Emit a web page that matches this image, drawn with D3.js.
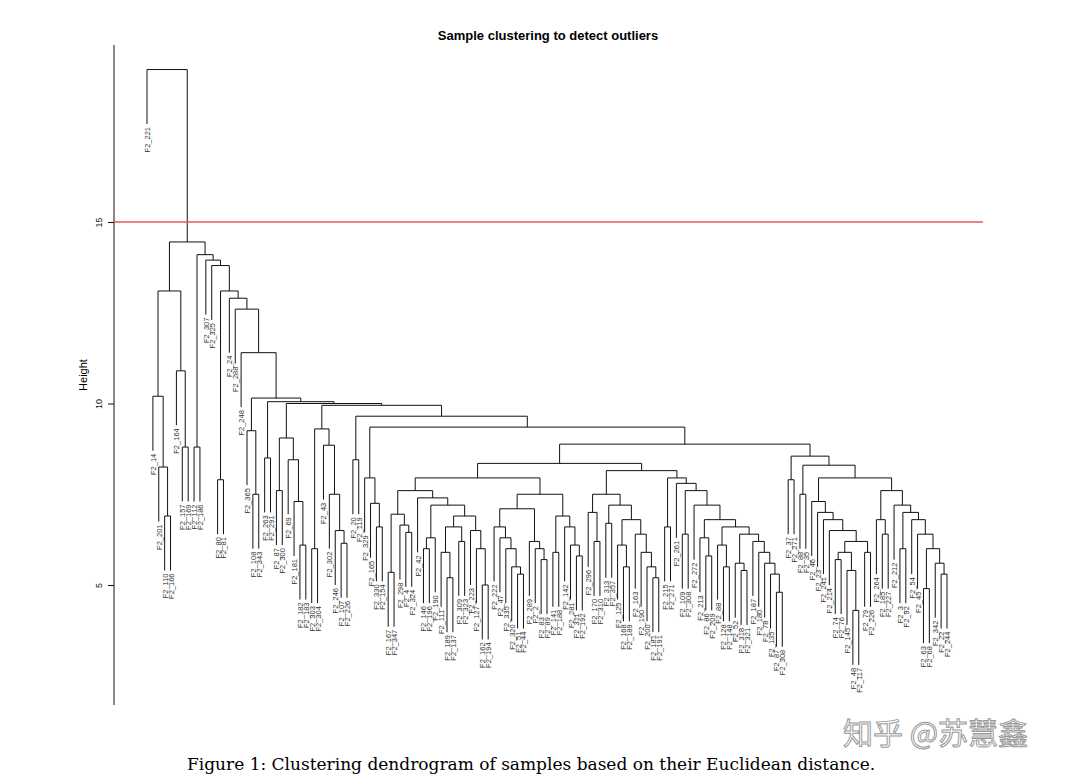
<!DOCTYPE html>
<html>
<head>
<meta charset="utf-8">
<script src="https://cdn.jsdelivr.net/npm/d3@7"></script>
<style>
  body { margin: 0; background: #fff; }
  svg { font-family: "Liberation Sans", Arial, sans-serif; }
</style>
</head>
<body>
<div id="chart"></div>
<script>
var svgWidth = 1080;
var svgHeight = 778;

// tree: [height, left, right]; leaf = sample label suffix
var tickValues = [5, 10, 15];
var cutHeight = 15;
var hang = 1.5;

var cUa = [7.3, "46", [7.0, "23", [6.8, "241", [6.5, "214", [6.2, [5.9, [5.7, "74", "76"], [5.4, "145", [4.3, "48", "117"]]], [5.9, "79", "226"]]]]]];
var cUb = [7.6, [6.8, "264", [6.4, "185", "227"]], [7.2, "212", [7.0, [6.0, "3", "92"], [6.8, "54", [6.4, "45", [6.0, [4.9, "63", "68"], [5.6, "342", [5.3, "22", "244"]]]]]]]];
var cU = [8.55, [7.9, "37", "271"], [8.3, [7.5, "88", "35"], [7.95, cUa, cUb]]];

var cTc = [7.2, [6.3, [6.0, "146", "196"], "190"], [6.9, [6.6, [5.9, "111", [5.2, "189", "137"]], [6.2, "309", "323"]], [6.5, "223", [6.0, "127", [5.0, "162", "194"]]]]];
var cTa = [7.6, [6.95, [5.35, "167", "347"], [6.65, "298", [6.45, "4", "324"]]], [7.4, "42", cTc]];
var cTb = [7.5, [7.1, [6.6, "222", [6.3, "47", [6.0, "335", [5.5, "320", [5.3, "51", "44"]]]]], [6.2, "289", [6.0, "2", [5.7, "83", "89"]]]],
               [6.9, [5.9, "141", "188"], [6.6, "142", [6.1, "281", [5.8, "311", "192"]]]]];
var cT2a = [7.5, [7.0, "296", [6.2, "170", "310"]], [7.2, [6.7, "313", "357"], [6.8, [6.1, "125", [5.5, "168", "189"]], [6.4, "163", [5.9, "190", [5.5, "200", [5.2, "181", "191"]]]]]]];
var cT2b = [7.95, [6.6, "215", "271"], [7.8, "261", [7.6, [6.4, "109", "308"], [7.2, "272", [6.8, [6.3, "213", [5.8, "86", "209"]],
               [6.6, [6.1, "88", [5.5, "128", "148"]], [6.4, [5.6, "52", [5.4, "318", "321"]], [6.2, "187", [5.9, "180", [5.6, "78", [5.3, "135", [4.8, "87", "308"]]]]]]]]]]]];
var cT = [8.35, [7.95, cTa, cTb], [8.15, cT2a, cT2b]];

var cQ = [9.35, [7.95, "329", [7.25, "165", [6.6, "330", "154"]]], [8.88, cT, cU]];
var cN1 = [9.3, [6.0, "303", "304"], [8.85, "43", [7.5, "302", [6.5, "246", [6.15, "107", "226"]]]]];
var cK1 = [9.05, [7.6, "87", "300"], [8.45, "69", [7.3, "181", [6.1, "182", "183"]]]];
var cI = [10.05, [8.5, "263", "291"], [10.0, cK1, [9.95, cN1, [9.65, [8.45, "20", "119"], cQ]]]];
var cG = [10.15, [9.25, "365", [7.5, "108", "343"]], cI];
var cA = [14.1, [8.8, "112", "186"], [13.95, "307", [13.8, "325", [13.1, [7.9, "80", "81"], [12.9, "24", [12.6, "288", [11.4, "248", cG]]]]]]];
var cL1 = [13.1, [10.2, "14", [8.25, "201", [6.9, "110", "166"]]], [10.9, "164", [8.8, "157", "169"]]];
var tree = [19.2, "221", [14.45, cL1, cA]];

// collect leaves in order
var leaves = [];
function collect(n) {
  if (typeof n === "string") { leaves.push(n); return; }
  collect(n[1]); collect(n[2]);
}
collect(tree);

var svg = d3.select("#chart").append("svg")
  .attr("width", svgWidth)
  .attr("height", svgHeight);

var x = d3.scaleLinear().domain([0, leaves.length - 1]).range([147, 947]);
var y = d3.scaleLinear().domain([5, 15]).range([585, 222]);

var g = svg.append("g");
var idx = 0;

// returns x position of node, draws its lines
function draw(n, parentH) {
  if (typeof n === "string") {
    var lx = x(idx++);
    var lh = parentH - hang;
    g.append("line").attr("x1", lx).attr("x2", lx)
      .attr("y1", y(parentH)).attr("y2", y(lh))
      .attr("stroke", "#111").attr("stroke-width", 1);
    g.append("text")
      .attr("transform", `translate(${lx + 3}, ${y(lh) + 3}) rotate(-90)`)
      .attr("text-anchor", "end")
      .attr("font-size", 7.5)
      .attr("fill", "#333")
      .text("F2_" + n);
    return lx;
  }
  var h = n[0];
  var xl = draw(n[1], h);
  var xr = draw(n[2], h);
  g.append("line").attr("x1", xl).attr("x2", xr)
    .attr("y1", y(h)).attr("y2", y(h))
    .attr("stroke", "#111").attr("stroke-width", 1);
  var xm = (xl + xr) / 2;
  if (parentH !== null) {
    g.append("line").attr("x1", xm).attr("x2", xm)
      .attr("y1", y(parentH)).attr("y2", y(h))
      .attr("stroke", "#111").attr("stroke-width", 1);
  }
  return xm;
}
draw(tree, null);

// axis
svg.append("line").attr("x1", 114).attr("x2", 114).attr("y1", 45).attr("y2", 705)
  .attr("stroke", "#111");
var yAxis = svg.append("g")
  .attr("transform", "translate(114,0)")
  .call(d3.axisLeft(y).tickValues(tickValues).tickSize(6).tickPadding(0));
yAxis.select(".domain").remove();
yAxis.selectAll("line").attr("stroke", "#111");
yAxis.selectAll("text")
  .attr("transform", "translate(-12,0) rotate(-90)")
  .attr("x", 0).attr("y", 0).attr("dy", 0)
  .attr("text-anchor", "middle")
  .attr("font-size", 9)
  .attr("fill", "#111");

// cut line
svg.append("line").attr("x1", 114).attr("x2", 983)
  .attr("y1", y(cutHeight)).attr("y2", y(cutHeight))
  .attr("stroke", "#e05a5a").attr("stroke-width", 1.3);

svg.append("text").attr("x", 548).attr("y", 40)
  .attr("text-anchor", "middle").attr("font-weight", "bold").attr("font-size", 13)
  .text("Sample clustering to detect outliers");

svg.append("text").attr("transform", "translate(87,375) rotate(-90)")
  .attr("text-anchor", "middle").attr("font-size", 11)
  .text("Height");

svg.append("text").attr("x", 187).attr("y", 770)
  .attr("font-family", "'DejaVu Serif', 'Liberation Serif', serif").attr("font-size", 17)
  .text("Figure 1: Clustering dendrogram of samples based on their Euclidean distance.");

svg.append("text").attr("x", 843).attr("y", 744)
  .attr("font-family", "'Noto Sans CJK SC', sans-serif").attr("font-size", 30)
  .attr("fill", "#fff").attr("stroke", "#999").attr("stroke-width", 1)
  .text("知乎 @苏慧鑫");
</script>
</body>
</html>
